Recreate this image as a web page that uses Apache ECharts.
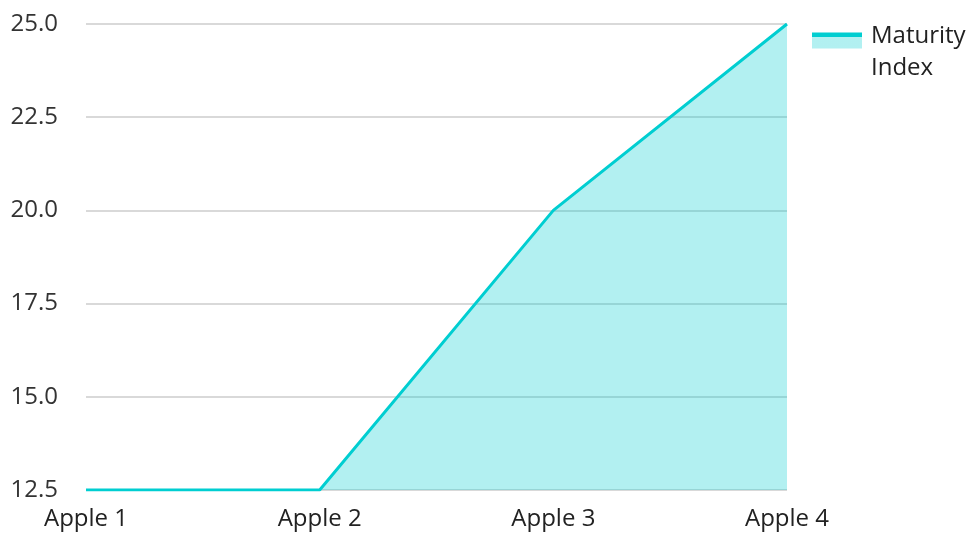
<!DOCTYPE html>
<html><head><meta charset="utf-8">
<script src="https://cdn.jsdelivr.net/npm/echarts@6/dist/echarts.min.js"></script>
<style>html,body{margin:0;padding:0;background:#fff}#c{width:974px;height:533px}</style>
</head><body><div id="c"></div>
<script>
const categories = ['Apple 1', 'Apple 2', 'Apple 3', 'Apple 4'];
const maturityIndex = [12.5, 12.5, 20, 25];
const seriesName = 'Maturity Index';
const legendLines = ['Maturity', 'Index'];

const chart = echarts.init(document.getElementById('c'));
chart.setOption({
  animation: false,
  textStyle: { fontFamily: 'Open Sans' },
  grid: { left: 86, right: 187, top: 24, bottom: 43 },
  legend: {
    left: 812, top: 8, padding: 0, orient: 'vertical',
    itemWidth: 50, itemHeight: 16, itemGap: 10,
    icon: 'rect',
    itemStyle: {
      color: {
        type: 'linear', x: 0, y: 0, x2: 0, y2: 1,
        colorStops: [
          { offset: 0, color: '#00CED1' },
          { offset: 0.3, color: '#00CED1' },
          { offset: 0.3, color: 'rgba(0,206,209,0.3)' },
          { offset: 1, color: 'rgba(0,206,209,0.3)' }
        ]
      },
      borderWidth: 0
    },
    lineStyle: { width: 0, opacity: 0 },
    formatter: () => '{s| }\n' + legendLines.map(l => '{t|' + l + '}').join('\n'),
    textStyle: {
      rich: {
        s: { fontSize: 1, lineHeight: 24 },
        t: { fontSize: 24, color: '#222', fontFamily: 'Open Sans', lineHeight: 32, padding: [0, 0, 0, 4] }
      }
    },
    data: [seriesName]
  },
  xAxis: {
    type: 'category', data: categories, boundaryGap: false,
    axisLine: { show: false }, axisTick: { show: false },
    axisLabel: { fontSize: 24, color: '#222', margin: 17, fontFamily: 'Open Sans' },
    splitLine: { show: false }
  },
  yAxis: {
    type: 'value', min: 12.5, max: 25, interval: 2.5,
    axisLine: { show: false }, axisTick: { show: false },
    axisLabel: { fontSize: 24, color: '#333', margin: 28, fontFamily: 'Open Sans',
      formatter: v => v.toFixed(1) },
    splitLine: { lineStyle: { color: '#cccccc', width: 1.5 } }
  },
  series: [{
    name: seriesName, type: 'line', data: maturityIndex,
    symbol: 'none',
    lineStyle: { color: '#00CED1', width: 3 },
    itemStyle: { color: '#00CED1' },
    areaStyle: { color: '#00CED1', opacity: 0.3 }
  }]
});
</script></body></html>
